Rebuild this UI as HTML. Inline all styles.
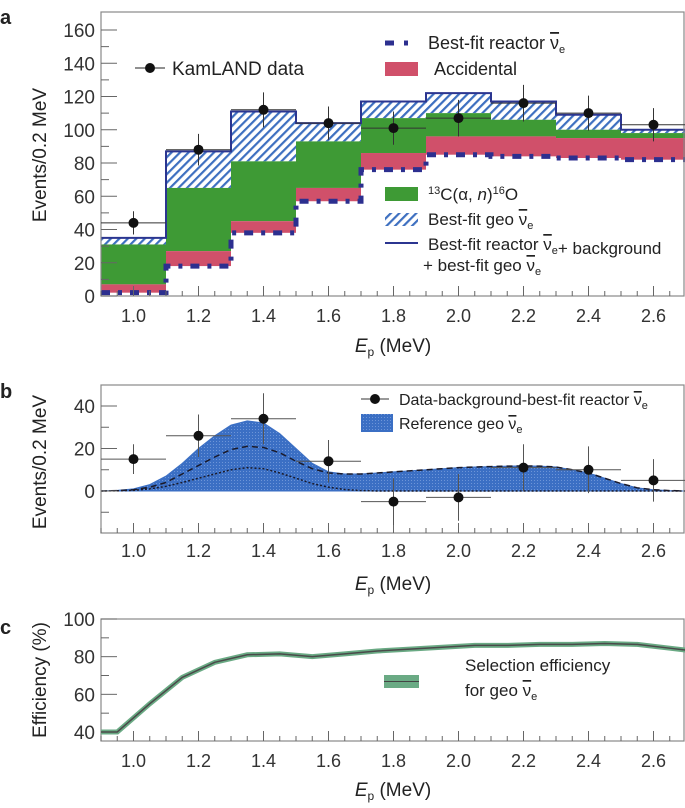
<!DOCTYPE html>
<html><head><meta charset="utf-8"><style>
body{margin:0;background:#fff;}
svg{display:block;font-family:"Liberation Sans","DejaVu Sans",sans-serif;}
</style></head><body>
<svg id="fig" width="685" height="808" viewBox="0 0 685 808">
<defs>
<pattern id="hatch" patternUnits="userSpaceOnUse" width="6" height="6" patternTransform="rotate(45)">
<rect width="6" height="6" fill="#fff"/><rect width="2.2" height="6" fill="#3d6fc0"/>
</pattern>
<pattern id="dots" patternUnits="userSpaceOnUse" width="3" height="3">
<rect width="3" height="3" fill="#3b6fc4"/><rect width="1" height="1" fill="#6d95d8"/>
</pattern>
</defs>
</svg>
<script>
// ---------- Panel a data ----------
const binEdges=[0.9,1.1,1.3,1.5,1.7,1.9,2.1,2.3,2.5,2.7];
const reactorA=[2,18,38,57,76,85,84,83,82];
const accidentalTop=[7,27,45,65,86,96,96,95,95];
const c13Top=[31,65,81,93,107,110,106,100,98];
const totalA=[35,87,111,104,117,122,117,109,100];
const dataXA=[1.0,1.2,1.4,1.6,1.8,2.0,2.2,2.4,2.6];
const dataYA=[44,88,112,104,101,107,116,110,103];
const errYA=[7,9.5,10.5,10,10,11,11,10.5,10];
const yTicksA=[0,20,40,60,80,100,120,140,160];
const xTicks=[1.0,1.2,1.4,1.6,1.8,2.0,2.2,2.4,2.6];
// ---------- Panel b data ----------
const curveX=[0.9,0.95,1.0,1.05,1.1,1.15,1.2,1.25,1.3,1.35,1.4,1.45,1.5,1.55,1.6,1.65,1.7,1.75,1.8,1.85,1.9,1.95,2.0,2.05,2.1,2.15,2.2,2.25,2.3,2.35,2.4,2.45,2.5,2.55,2.6,2.65,2.7];
const refGeo=[0,0.3,1,3,7,13,20,26,31,33,32,27,20,13,9,8,8,8.5,9,9.5,10,10.5,11,11.3,11.5,11.7,11.8,11.7,11.3,10,8.5,6,3.5,1.5,0.6,0.2,0];
const dashedGeo=[0,0.2,0.6,1.8,4,8,12,16,19.5,21,20.5,18,14,10.5,8.5,8,8,8.5,9,9.5,10,10.5,11,11.3,11.5,11.7,11.8,11.7,11.3,10,8.5,6,3.5,1.5,0.6,0.2,0];
const dottedGeo=[0,0.1,0.3,1,2.2,4,6,8,10,11,10.5,8.5,6,3.5,1.8,0.7,0.2,0,0,0,0,0,0,0,0,0,0,0,0,0,0,0,0,0,0,0,0];
const dataYB=[15,26,34,14,-5,-3,11,10,5];
const errYB=[7,10,12,10,11,11,11,11,10];
const yTicksB=[0,20,40];
// ---------- Panel c data ----------
const effX=[0.9,0.95,1.05,1.15,1.25,1.35,1.45,1.55,1.65,1.75,1.85,1.95,2.05,2.15,2.25,2.35,2.45,2.55,2.65,2.7];
const effY=[40,40,55,69,77,81,81.5,80,81.5,83,84,85,86,86,86.5,86.5,87,86.5,84.5,83.5];
const yTicksC=[40,60,80,100];

const svg=document.getElementById('fig');
const NS='http://www.w3.org/2000/svg';
function el(tag,attrs,parent){const e=document.createElementNS(NS,tag);for(const k in attrs)e.setAttribute(k,attrs[k]);(parent||svg).appendChild(e);return e;}
const X0=101,X1=686;
const xs=v=>X0+(v-0.9)/(2.7-0.9)*(X1-X0);
function lin(v0,p0,v1,p1){return v=>p0+(v-v0)/(v1-v0)*(p1-p0);}
const yA=lin(0,296,160,30);
const yB=lin(0,491,40,406);
const yC=lin(40,732,100,619);

function axes(g,top,bottom,yfun,yticks,minorY,labY,name){
  const f=el('rect',{x:X0,y:top,width:684-X0,height:bottom-top,fill:'none',stroke:'#888','stroke-width':1.2},g);
  
  
  for(let k=0;k<=36;k++){
    const v=0.9+k*0.05;
    const isMaj=(k%4===2);
    const t=el('line',{x1:xs(v),x2:xs(v),y1:bottom,y2:bottom-(isMaj?10:5),stroke:'#666','stroke-width':1},g);
    
    
  }
  xTicks.forEach(v=>{const t=el('text',{x:xs(v),y:labY,'text-anchor':'middle','font-size':18,fill:'#333'},g);t.textContent=v.toFixed(1);
    
    });
  minorY.forEach(v=>{const isMaj=yticks.includes(v);const t=el('line',{x1:X0,x2:X0+(isMaj?16:8),y1:yfun(v),y2:yfun(v),stroke:'#666','stroke-width':1},g);
    
    });
  yticks.forEach(v=>{const t=el('text',{x:X0-6,y:yfun(v)+7,'text-anchor':'end','font-size':19,fill:'#333'},g);t.textContent=v;
    
    });
}
function txt(g,x,y,s,size,name,extra){const t=el('text',Object.assign({x:x,y:y,'font-size':size,fill:'#222'},extra||{}),g);t.innerHTML=s;
  
  return t;}
const nub='<tspan style="text-decoration:overline">ν</tspan><tspan font-size="11" dy="4">e</tspan><tspan dy="-4"></tspan>';
const xtitle='<tspan font-style="italic">E</tspan><tspan font-size="12" dy="4">p</tspan><tspan dy="-4"> (MeV)</tspan>';

// ===== Panel a =====
const gA=el('g',{});


for(let i=0;i<reactorA.length;i++){
  const x=xs(binEdges[i]),w=xs(binEdges[i+1])-x;
  const h=el('rect',{x:x,y:yA(totalA[i]),width:w,height:yA(c13Top[i])-yA(totalA[i]),fill:'url(#hatch)'},gA);
  
  
  const g=el('rect',{x:x,y:yA(c13Top[i]),width:w,height:yA(accidentalTop[i])-yA(c13Top[i]),fill:'#3e9a35'},gA);
  
  
  const r=el('rect',{x:x,y:yA(accidentalTop[i]),width:w,height:yA(reactorA[i])-yA(accidentalTop[i]),fill:'#d0506a'},gA);
  
  
}
let pR='',pT='';
for(let i=0;i<reactorA.length;i++){
  const x0=xs(binEdges[i]),x1=xs(binEdges[i+1]);
  pR+=(i?'L':'M')+x0+','+yA(reactorA[i])+'L'+x1+','+yA(reactorA[i]);
  pT+=(i?'L':'M')+x0+','+yA(totalA[i])+'L'+x1+','+yA(totalA[i]);
}
const rp=el('path',{d:pR,fill:'none',stroke:'#2c2f8f','stroke-width':5,'stroke-dasharray':'9,8,4,8'},gA);


const tp=el('path',{d:pT,fill:'none',stroke:'#2b3590','stroke-width':2},gA);


axes(gA,12,296,yA,yTicksA,[0,10,20,30,40,50,60,70,80,90,100,110,120,130,140,150,160],322,'panel-a');
dataXA.forEach((v,i)=>{
  const e1=el('line',{x1:xs(v-0.1),x2:xs(v+0.1),y1:yA(dataYA[i]),y2:yA(dataYA[i]),stroke:'#333','stroke-width':1},gA);
  
  
  const e2=el('line',{x1:xs(v),x2:xs(v),y1:yA(dataYA[i]-errYA[i]),y2:yA(dataYA[i]+errYA[i]),stroke:'#333','stroke-width':1},gA);
  
  
  const c=el('circle',{cx:xs(v),cy:yA(dataYA[i]),r:5,fill:'#111'},gA);
  
  
});
txt(gA,0,24,'a',20,'panel-a-label',{'font-weight':'bold'});
txt(gA,46,155,'Events/0.2 MeV',19,'y-axis-title-a',{transform:'rotate(-90 46 155)','text-anchor':'middle'});
txt(gA,393,352,xtitle,19,'x-axis-title-a',{'text-anchor':'middle'});
// legend a
el('line',{x1:135,x2:165,y1:68,y2:68,stroke:'#222','stroke-width':1},gA);
el('circle',{cx:150,cy:68,r:5,fill:'#111'},gA);
txt(gA,172,75,'KamLAND data',19,'legend-kamland-data');
el('line',{x1:385,x2:416,y1:43,y2:43,stroke:'#2c2f8f','stroke-width':5,'stroke-dasharray':'9,10,4,10'},gA);
txt(gA,428,49,'Best-fit reactor '+nub,18,'legend-reactor');
el('rect',{x:385,y:62,width:33,height:14,fill:'#d0506a'},gA);
txt(gA,434,75,'Accidental',18,'legend-accidental');
el('rect',{x:385,y:187,width:33,height:14,fill:'#3e9a35'},gA);
txt(gA,428,200,'<tspan font-size="11" dy="-6">13</tspan><tspan dy="6">C(α, </tspan><tspan font-style="italic">n</tspan>)<tspan font-size="11" dy="-6">16</tspan><tspan dy="6">O</tspan>',17,'legend-c13');
el('rect',{x:385,y:213,width:33,height:13,fill:'url(#hatch)'},gA);
txt(gA,428,225,'Best-fit geo '+nub,17,'legend-geo');
el('line',{x1:385,x2:418,y1:243,y2:243,stroke:'#2b3590','stroke-width':2},gA);
txt(gA,428,250,'Best-fit reactor '+nub+'+  background',17,'legend-total-1');
txt(gA,423,271,'+ best-fit geo '+nub,17,'legend-total-2');

// ===== Panel b =====
const gB=el('g',{});


const area=curveX.map((v,i)=>(i?'L':'M')+xs(v)+','+yB(refGeo[i])).join('')+'L'+xs(2.7)+','+yB(0)+'L'+xs(0.9)+','+yB(0)+'Z';
const ar=el('path',{d:area,fill:'url(#dots)',stroke:'#3b6fc4','stroke-width':1},gB);


const dl=el('path',{d:curveX.map((v,i)=>(i?'L':'M')+xs(v)+','+yB(dashedGeo[i])).join(''),fill:'none',stroke:'#1a1a2a','stroke-width':1.5,'stroke-dasharray':'6,4'},gB);


const dt=el('path',{d:curveX.map((v,i)=>(i?'L':'M')+xs(v)+','+yB(dottedGeo[i])).join(''),fill:'none',stroke:'#1a1a2a','stroke-width':1.5,'stroke-dasharray':'2,2'},gB);


axes(gB,385,533,yB,yTicksB,[-10,0,10,20,30,40],557,'panel-b');
dataXA.forEach((v,i)=>{
  const e1=el('line',{x1:xs(v-0.1),x2:xs(v+0.1),y1:yB(dataYB[i]),y2:yB(dataYB[i]),stroke:'#555','stroke-width':1},gB);
  
  
  const e2=el('line',{x1:xs(v),x2:xs(v),y1:yB(dataYB[i]-errYB[i]),y2:yB(dataYB[i]+errYB[i]),stroke:'#555','stroke-width':1},gB);
  
  
  const c=el('circle',{cx:xs(v),cy:yB(dataYB[i]),r:5,fill:'#111'},gB);
  
  
});
txt(gB,0,398,'b',20,'panel-b-label',{'font-weight':'bold'});
txt(gB,46,462,'Events/0.2 MeV',19,'y-axis-title-b',{transform:'rotate(-90 46 462)','text-anchor':'middle'});
txt(gB,393,590,xtitle,19,'x-axis-title-b',{'text-anchor':'middle'});
el('line',{x1:361,x2:389,y1:399,y2:399,stroke:'#333','stroke-width':1},gB);
el('circle',{cx:375,cy:399,r:5,fill:'#111'},gB);
txt(gB,399,405,'Data-background-best-fit reactor '+nub,16,'legend-residual');
el('rect',{x:361,y:414,width:32,height:18,fill:'url(#dots)'},gB);
txt(gB,399,429,'Reference geo '+nub,16,'legend-reference-geo');

// ===== Panel c =====
const gC=el('g',{});


axes(gC,619,741,yC,yTicksC,[40,50,60,70,80,90,100],767,'panel-c');
const ep=effX.map((v,i)=>(i?'L':'M')+xs(v)+','+yC(effY[i])).join('');
const band=el('path',{d:ep,fill:'none',stroke:'#6aaa84','stroke-width':5},gC);


const ln=el('path',{d:ep,fill:'none',stroke:'#4a4a4a','stroke-width':1.5},gC);


el('rect',{x:384,y:675,width:35,height:13,fill:'#6aaa84'},gC);
el('line',{x1:384,x2:419,y1:681.5,y2:681.5,stroke:'#444','stroke-width':1},gC);
txt(gC,465,671,'Selection efficiency',17,'legend-efficiency-1');
txt(gC,465,696,'for geo '+nub,17,'legend-efficiency-2');
txt(gC,0,634,'c',20,'panel-c-label',{'font-weight':'bold'});
txt(gC,46,680,'Efficiency (%)',19,'y-axis-title-c',{transform:'rotate(-90 46 680)','text-anchor':'middle'});
txt(gC,393,796,xtitle,19,'x-axis-title-c',{'text-anchor':'middle'});
</script>
</body></html>
